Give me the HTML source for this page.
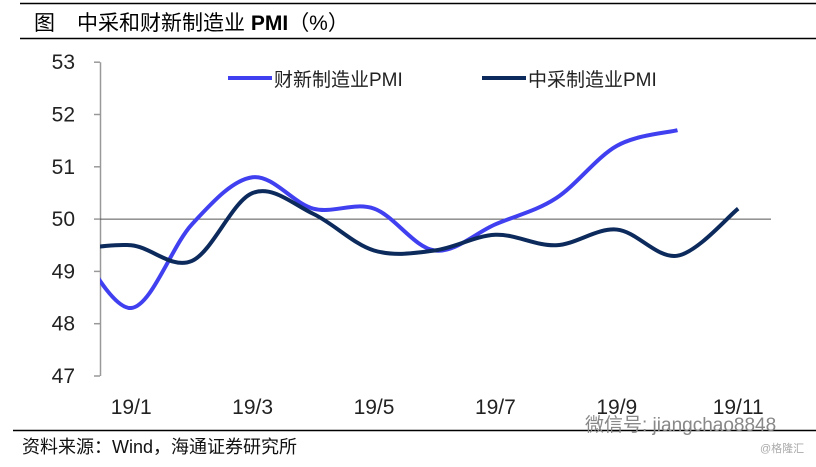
<!DOCTYPE html>
<html><head><meta charset="utf-8"><style>
body{margin:0;background:#fff;width:816px;height:462px;overflow:hidden;font-family:"Liberation Sans","Noto Sans CJK SC",sans-serif}
</style></head><body>
<svg width="816" height="462" viewBox="0 0 816 462">
<line x1="20" y1="3.5" x2="816" y2="3.5" stroke="#000" stroke-width="1.5"/>
<text x="34" y="30" font-size="21" font-family="Liberation Sans,Noto Sans CJK SC,sans-serif">图<tspan dx="22">中采和财新制造业 </tspan><tspan font-weight="bold">PMI</tspan>（%）</text>
<line x1="20" y1="38.5" x2="816" y2="38.5" stroke="#000" stroke-width="1.5"/>
<g id="axes"></g>
<g id="series" clip-path="url(#clip)"></g>
<clipPath id="clip"><rect x="100" y="40" width="672" height="350"/></clipPath>
<g>
<line x1="228" y1="78" x2="272" y2="78" stroke="#4040f0" stroke-width="4"/>
<text x="274" y="86" font-size="19" fill="#222">财新制造业PMI</text>
<line x1="482" y1="78" x2="526" y2="78" stroke="#0c2a5c" stroke-width="4"/>
<text x="528" y="86" font-size="19" fill="#222">中采制造业PMI</text>
</g>
<line x1="13" y1="430.5" x2="816" y2="430.5" stroke="#000" stroke-width="1.5"/>
<text x="22" y="453" font-size="18" fill="#111">资料来源：Wind，海通证券研究所</text>
<text x="585" y="431" font-size="19" fill="#888">微信号: jiangchao8848</text>
<text x="760" y="452" font-size="11" fill="#aaa">@格隆汇</text>
</svg>
<script>
const months=["18/12","19/1","19/2","19/3","19/4","19/5","19/6","19/7","19/8","19/9","19/10","19/11"];
const caixin=[49.7,48.3,49.9,50.8,50.2,50.2,49.4,49.9,50.4,51.4,51.7,null];
const nbs=[49.4,49.5,49.2,50.5,50.1,49.4,49.4,49.7,49.5,49.8,49.3,50.2];
const yTicks=[47,48,49,50,51,52,53];
const xLabels=["19/1","19/3","19/5","19/7","19/9","19/11"];
const NS="http://www.w3.org/2000/svg";
function X(i){return 70.5+i*60.7;}
function Y(v){return 376-(v-47)*52.3;}
function mk(t,a,p){const e=document.createElementNS(NS,t);for(const k in a)e.setAttribute(k,a[k]);p.appendChild(e);return e;}
const ax=document.getElementById('axes');
const yl=mk('line',{x1:100.5,y1:Y(53),x2:100.5,y2:Y(47),stroke:'#999','stroke-width':1.5},ax);


yTicks.forEach(v=>{
 const t=mk('line',{x1:94,y1:Y(v),x2:100,y2:Y(v),stroke:'#999','stroke-width':1.5},ax);
 
 
 const l=mk('text',{x:75,y:Y(v)+7,'font-size':21,'text-anchor':'end',fill:'#222'},ax);l.textContent=v;
 
 
});
const ref=mk('line',{x1:100,y1:Y(50),x2:771,y2:Y(50),stroke:'#555','stroke-width':1},ax);


xLabels.forEach(s=>{
 const i=months.indexOf(s);
 const l=mk('text',{x:X(i),y:414,'font-size':21,'text-anchor':'middle',fill:'#222'},ax);l.textContent=s;
 
 
});
function path(vals){
 const p=[];vals.forEach((v,i)=>{if(v!=null)p.push([X(i),Y(v)]);});
 let d='M'+p[0][0]+','+p[0][1];
 for(let i=0;i<p.length-1;i++){
  const p0=p[i-1]||p[i],p1=p[i],p2=p[i+1],p3=p[i+2]||p2;
  const c1=[p1[0]+(p2[0]-p0[0])/6,p1[1]+(p2[1]-p0[1])/6];
  const c2=[p2[0]-(p3[0]-p1[0])/6,p2[1]-(p3[1]-p1[1])/6];
  d+=` C${c1[0]},${c1[1]} ${c2[0]},${c2[1]} ${p2[0]},${p2[1]}`;
 }
 return d;
}
const sg=document.getElementById('series');
const s1=mk('path',{d:path(caixin),fill:'none',stroke:'#4040f0','stroke-width':4},sg);


const s2=mk('path',{d:path(nbs),fill:'none',stroke:'#0c2a5c','stroke-width':4},sg);


</script>
</body></html>
